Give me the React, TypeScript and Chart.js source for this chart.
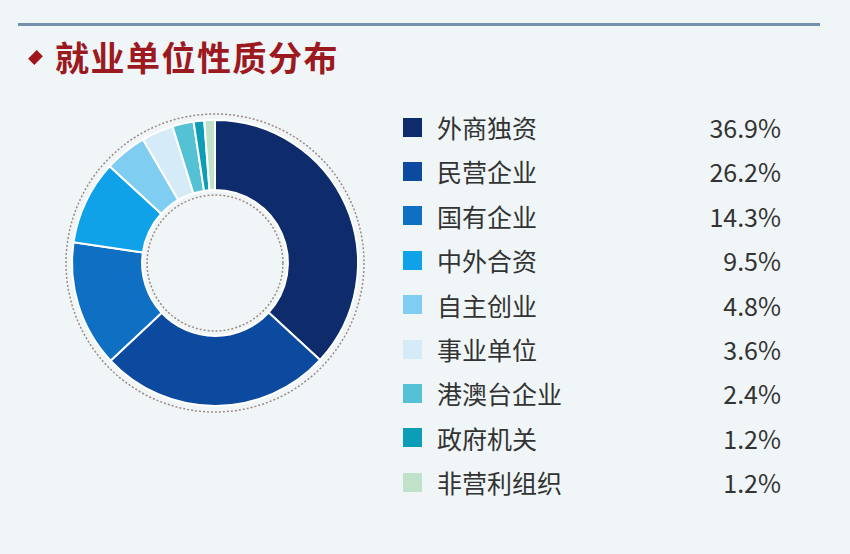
import React, { useEffect, useRef } from "react";
import { Chart, registerables } from "chart.js";

Chart.register(...registerables);

const titleText = "就业单位性质分布";
const categories = ["外商独资", "民营企业", "国有企业", "中外合资", "自主创业", "事业单位", "港澳台企业", "政府机关", "非营利组织"];
const shares = [36.9, 26.2, 14.3, 9.5, 4.8, 3.6, 2.4, 1.2, 1.2];
const shareLabels = ["36.9%", "26.2%", "14.3%", "9.5%", "4.8%", "3.6%", "2.4%", "1.2%", "1.2%"];
const colors = ["#0e2c6b", "#0b4a9e", "#0f6fc3", "#10a2e8", "#7fcdf1", "#d5ebf7", "#55c1d5", "#0d9db6", "#c0e1ca"];

const dottedRings = {
  id: "dottedRings",
  afterDraw(chart: any) {
    const meta = chart.getDatasetMeta(0);
    const arc = meta.data[0];
    if (!arc) return;
    const { x, y, outerRadius, innerRadius } = arc as any;
    const ctx = chart.ctx;
    ctx.save();
    ctx.strokeStyle = "#9c8a82";
    ctx.lineWidth = 1.5;
    ctx.setLineDash([2, 2]);
    ctx.beginPath();
    ctx.arc(x, y, outerRadius + 6, 0, Math.PI * 2);
    ctx.stroke();
    ctx.beginPath();
    ctx.arc(x, y, innerRadius - 5, 0, Math.PI * 2);
    ctx.stroke();
    ctx.restore();
  },
};

export default function App() {
  const ref = useRef<HTMLCanvasElement | null>(null);
  useEffect(() => {
    if (!ref.current) return;
    const chart = new Chart(ref.current, {
      type: "doughnut",
      data: {
        labels: categories,
        datasets: [
          {
            data: shares,
            backgroundColor: colors,
            borderColor: "#ffffff",
            borderWidth: 2,
          },
        ],
      },
      options: {
        animation: false,
        responsive: false,
        maintainAspectRatio: false,
        cutout: "51%",
        layout: { padding: 16 },
        plugins: { legend: { display: false }, tooltip: { enabled: false } },
      },
      plugins: [dottedRings],
    });
    return () => chart.destroy();
  }, []);

  const font = '"Noto Sans CJK SC", "Noto Sans", sans-serif';
  return (
    <div style={{ position: "fixed", left: 0, top: 0, width: 850, height: 554, background: "#f0f6f7", overflow: "hidden", fontFamily: font }}>
      <div style={{ position: "absolute", left: 18, top: 23, width: 802, height: 3, background: "#7590ad" }} />
      <div style={{ position: "absolute", left: 30, top: 52, width: 11, height: 11, background: "#a0161c", transform: "rotate(45deg) scale(0.8,1.1)" }} />
      <div style={{ position: "absolute", left: 55, top: 34, fontSize: 34, fontWeight: 700, color: "#9c1a1f", lineHeight: "46px", letterSpacing: 1.5 }}>{titleText}</div>
      <canvas ref={ref} width={320} height={320} style={{ position: "absolute", left: 55, top: 103, width: 320, height: 320 }} />
      {categories.map((c, i) => {
        const cy = 127 + i * 44.4;
        return (
          <React.Fragment key={c}>
            <div style={{ position: "absolute", left: 403, top: cy - 9.5, width: 19, height: 19, background: colors[i] }} />
            <div style={{ position: "absolute", left: 437, top: cy - 18, height: 36, lineHeight: "36px", fontSize: 25, color: "#333333", whiteSpace: "nowrap" }}>{c}</div>
            <div style={{ position: "absolute", right: 850 - 781, top: cy - 18, height: 36, lineHeight: "36px", fontSize: 25, color: "#333333", whiteSpace: "nowrap" }}>{shareLabels[i]}</div>
          </React.Fragment>
        );
      })}
    </div>
  );
}
